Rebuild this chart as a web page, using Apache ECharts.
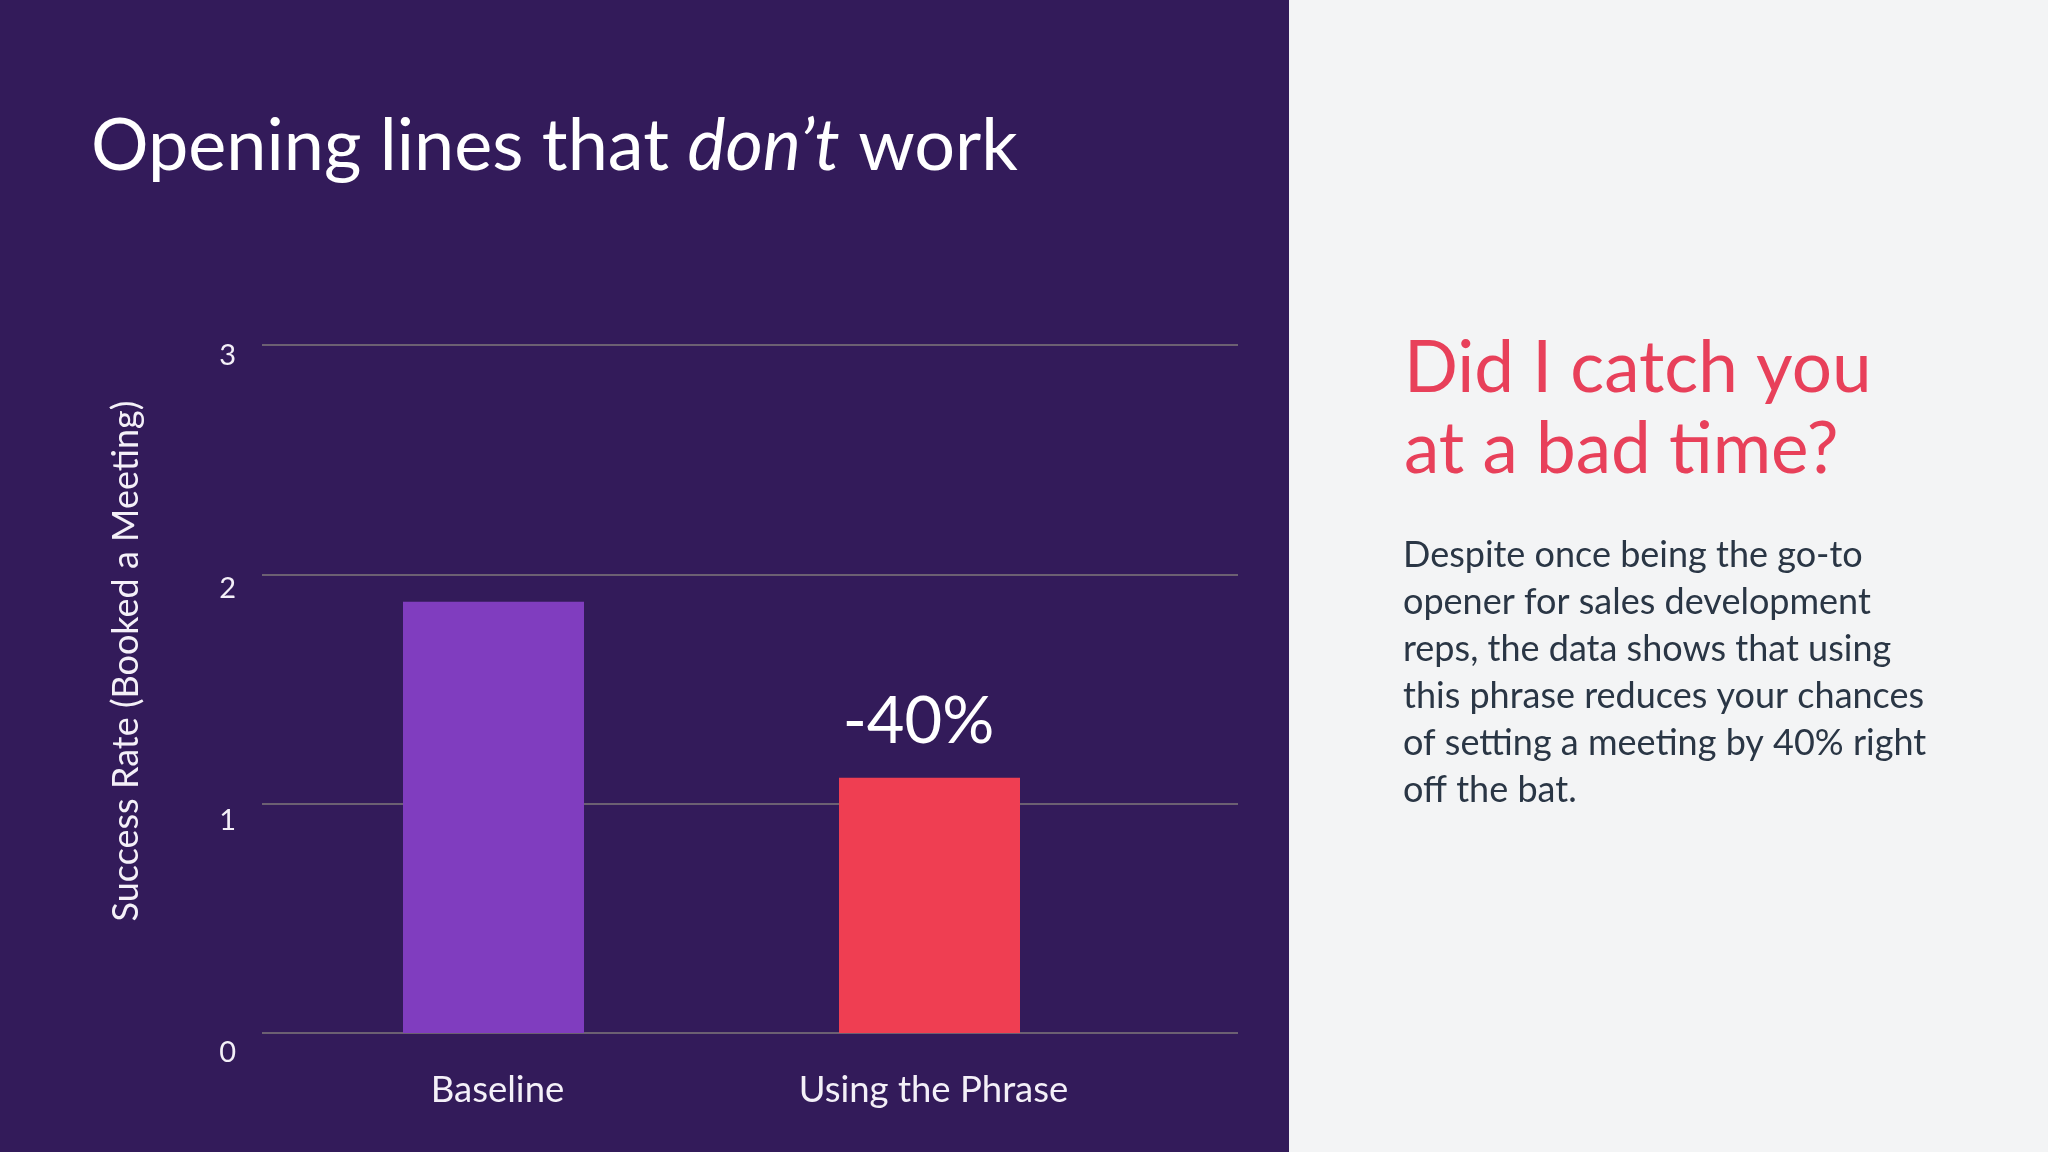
<!DOCTYPE html>
<html>
<head>
<meta charset="utf-8">
<title>Opening lines that don't work</title>
<style>
    html, body { margin: 0; padding: 0; background: #331b5a; }
    #chart { width: 2048px; height: 1152px; }
</style>
<script src="https://cdn.jsdelivr.net/npm/echarts@6/dist/echarts.min.js"></script>
</head>
<body>
<div id="chart"></div>
<script>
    var categories = ['Baseline', 'Using the Phrase'];
    var successRate = [1.88, 1.113];
    var barColors = ['#803dbf', '#ef3e52'];
    var barLabels = ['', '-40%'];
    var yMin = 0;
    var yMax = 3;
    var yInterval = 1;
    var yAxisName = 'Success Rate (Booked a Meeting)';
    var headingLines = ['Did I catch you', 'at a bad time?'];
    var bodyLines = [
        'Despite once being the go-to',
        'opener for sales development',
        'reps, the data shows that using',
        'this phrase reduces your chances',
        'of setting a meeting by 40% right',
        'off the bat.'
    ];

    var FONT = 'Lato, "Noto Sans", sans-serif';
    var panelX = 1289;
    var plotTop = 345;
    var plotHeight = 688;

    // right panel text, one element per line
    var graphics = [{
        type: 'rect',
        z: -10,
        shape: { x: panelX, y: 0, width: 2048 - panelX, height: 1152 },
        style: { fill: '#f3f4f5' }
    }, {
        type: 'text',
        x: 126,
        y: 661,
        rotation: Math.PI / 2,
        style: {
            text: yAxisName,
            font: '36px ' + FONT,
            fill: '#f4f0f8',
            align: 'center',
            verticalAlign: 'middle'
        }
    }];
    headingLines.forEach(function (line, i) {
        graphics.push({
            type: 'text',
            x: 1404,
            y: 369 + i * 81,
            style: { text: line, font: '71px ' + FONT, fill: '#e8405a', verticalAlign: 'middle' }
        });
    });
    bodyLines.forEach(function (line, i) {
        graphics.push({
            type: 'text',
            x: 1403,
            y: 555 + i * 47,
            style: { text: line, font: '36px ' + FONT, fill: '#2a3645', verticalAlign: 'middle' }
        });
    });

    var myChart = echarts.init(document.getElementById('chart'));
    myChart.setOption({
        backgroundColor: '#331b5a',
        animation: false,
        textStyle: { fontFamily: FONT },
        title: {
            left: 86,
            top: 106,
            text: 'Opening lines that {i|don\u2019t} work',
            textStyle: {
                color: '#ffffff',
                fontSize: 72,
                fontWeight: 'normal',
                fontFamily: FONT,
                rich: {
                    i: { fontSize: 72, fontStyle: 'italic', color: '#ffffff', fontFamily: FONT }
                }
            }
        },
        graphic: graphics,
        grid: [
            // gridlines
            { left: 262, width: 976, top: plotTop, height: plotHeight },
            // bars
            { left: 275.5, width: 872, top: plotTop, height: plotHeight },
            // tick labels sit below their lines in the reference, evenly spaced
            { left: 262, width: 976, top: 356, height: 697 }
        ],
        xAxis: [
            { gridIndex: 0, type: 'category', data: categories, show: false },
            {
                gridIndex: 1,
                type: 'category',
                data: categories,
                axisLine: { show: false },
                axisTick: { show: false },
                axisLabel: {
                    color: '#f4f0f8',
                    fontSize: 36.5,
                    margin: 39,
                    padding: [0, 0, 0, 8]
                }
            },
            { gridIndex: 2, type: 'category', data: categories, show: false }
        ],
        yAxis: [
            {
                gridIndex: 0,
                type: 'value',
                min: yMin,
                max: yMax,
                interval: yInterval,
                axisLabel: { show: false },
                axisLine: { show: false },
                axisTick: { show: false },
                splitLine: { show: true, lineStyle: { color: '#6c6072', width: 2 } }
            },
            { gridIndex: 1, type: 'value', min: yMin, max: yMax, interval: yInterval, show: false },
            {
                gridIndex: 2,
                type: 'value',
                min: yMin,
                max: yMax,
                interval: yInterval,
                axisLine: { show: false },
                axisTick: { show: false },
                splitLine: { show: false },
                axisLabel: { color: '#f4f0f8', fontSize: 29, margin: 26 }
            }
        ],
        series: [{
            type: 'bar',
            xAxisIndex: 1,
            yAxisIndex: 1,
            barWidth: 181,
            data: successRate.map(function (v, i) {
                return {
                    value: v,
                    itemStyle: { color: barColors[i] },
                    label: {
                        show: !!barLabels[i],
                        formatter: barLabels[i],
                        position: 'top',
                        distance: 23,
                        offset: [-11, 0],
                        color: '#ffffff',
                        fontSize: 65
                    }
                };
            })
        }]
    });
</script>
</body>
</html>
